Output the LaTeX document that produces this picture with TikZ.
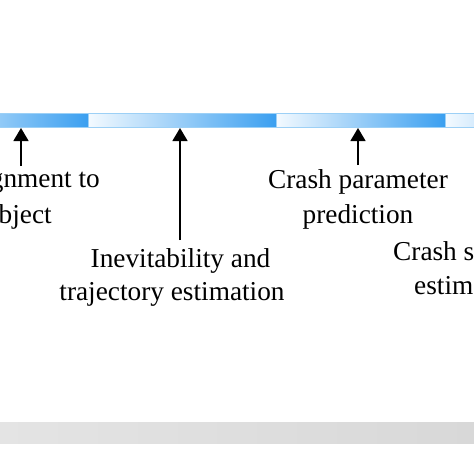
\documentclass[tikz,border=0pt]{standalone}
\usepackage{fontspec}
\setmainfont{Liberation Serif}
\usetikzlibrary{arrows.meta}
\definecolor{barblue}{HTML}{3A9FF0}
\definecolor{barlight}{HTML}{F4FAFF}
\definecolor{barmid}{HTML}{B0D9F8}
\definecolor{barline}{HTML}{9CD0F6}
\definecolor{grayL}{HTML}{E4E4E4}
\definecolor{grayD}{HTML}{D8D8D8}
\tikzset{
  lbl/.style={font=\fontsize{27.3}{34}\selectfont, inner sep=0pt, text=black},
  arr/.style={line width=1.5pt, -{Triangle[width=15pt,length=13pt]}},
  seg/.style={draw=barline, line width=1pt, left color=barlight, middle color=barmid, right color=barblue},
  graybar/.style={left color=grayL, right color=grayD},
}
\begin{document}
\begin{tikzpicture}[x=1pt,y=-1pt]
\useasboundingbox (0,0) rectangle (474,474);
\begin{scope}
\clip (0,0) rectangle (474,474);
% blue timeline bar
\shade[seg] (-100,113) rectangle (88,127);
\shade[seg] (88,113) rectangle (276,127);
\shade[seg] (276,113) rectangle (445,127);
\shade[seg] (445,113) rectangle (633,127);
% gray bar
\shade[graybar] (-2,422) rectangle (476,443);
\end{scope}
\coordinate (barbot) at (0,128);
% labels
\node[lbl, anchor=base east] (l1a) at (100,187) {gnment to};
\node[lbl, anchor=base east] (l1b) at (52,223) {bject};
\node[lbl, anchor=base] (l2a) at (180.5,267) {Inevitability and};
\node[lbl, anchor=base] (l2b) at (172,300) {trajectory estimation};
\node[lbl, anchor=base] (l3a) at (358,188) {Crash parameter};
\node[lbl, anchor=base] (l3b) at (358,223) {prediction};
\node[lbl, anchor=base west] (l4a) at (393,260) {Crash s};
\node[lbl, anchor=base west] (l4b) at (414,294) {estim};
% arrows
\coordinate (t1) at (21,166);
\coordinate (t2) at (180,240);
\coordinate (t3) at (358,165);
\draw[arr] (t1) -- (t1 |- barbot);
\draw[arr] (t2) -- (t2 |- barbot);
\draw[arr] (t3) -- (t3 |- barbot);
\end{tikzpicture}
\end{document}
